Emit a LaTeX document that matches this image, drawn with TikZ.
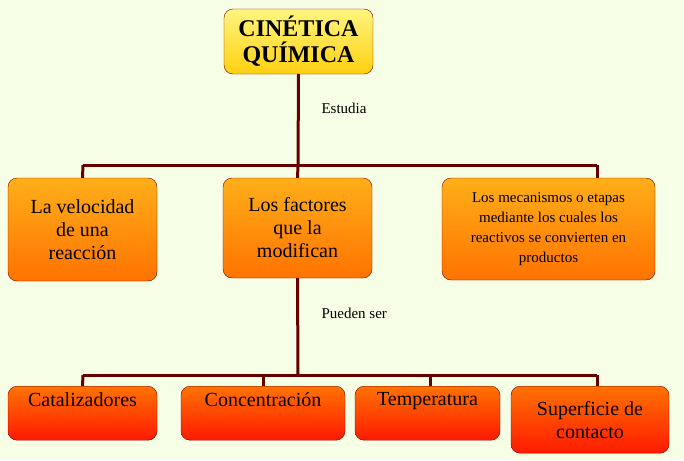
\documentclass[tikz,border=0pt]{standalone}
\usepackage{fontspec}
\setmainfont{Liberation Serif}
\begin{document}
\begin{tikzpicture}[x=1pt,y=-1pt,
  box/.style={draw=red!50!black,rounded corners=9pt,align=center,inner sep=1pt},
  mid/.style={box,top color=orange!70!yellow!90!white,bottom color=orange!90!red,font=\fontsize{20}{23}\selectfont},
  low/.style={box,top color=orange!90!red,bottom color=red!80!orange,font=\fontsize{20}{23}\selectfont},
  ln/.style={draw=red!40!black,line width=3pt},
  lab/.style={font=\fontsize{15}{17}\selectfont}]
\fill[fill={rgb,255:red,246;green,255;blue,230}] (0,0) rectangle (684,460);
\useasboundingbox (0,0) rectangle (684,460);
% connectors first
\coordinate (h1) at (298,165);
\coordinate (hl) at (83,165);
\coordinate (hr) at (597,165);
\coordinate (g1) at (298,375);
\coordinate (gl) at (83,375);
\coordinate (gr) at (597,375);
\coordinate (g2) at (263,375);
\coordinate (g3) at (430,375);
\node[box,top color={rgb,255:red,255;green,245;blue,128},bottom color={rgb,255:red,255;green,208;blue,16},minimum width=149pt,minimum height=65pt,font=\bfseries\fontsize{24}{26}\selectfont] (top) at (298.5,41.5) {CINÉTICA\\QUÍMICA};
\node[mid,minimum width=149pt,minimum height=103pt] (a) at (82.5,229.5) {La velocidad\\de una\\reacción};
\node[mid,minimum width=149pt,minimum height=100pt] (b) at (297.5,228) {Los factores\\que la\\modifican};
\node[mid,minimum width=213pt,minimum height=102pt,font=\fontsize{15}{20}\selectfont] (c) at (548.5,229) {Los mecanismos o etapas\\mediante los cuales los\\reactivos se convierten en\\productos};
\node[low,minimum width=149pt,minimum height=54pt,anchor=north] (d) at (82.5,386) {Catalizadores\\[-2pt]\strut};
\node[low,minimum width=164pt,minimum height=54pt,anchor=north] (e) at (263,386) {Concentración\\[-2pt]\strut};
\node[low,minimum width=145pt,minimum height=54pt,anchor=north] (f) at (427.5,386) {Temperatura\\[-2pt]\strut};
\node[low,minimum width=158pt,minimum height=67pt,anchor=north] (g) at (590,386) {Superficie de\\contacto};
\begin{scope}[on background layer/.style={}]
\end{scope}
\draw[ln] (top.south) -- (h1);
\draw[ln] (hl) -- (hr);
\draw[ln] (hl) -- (a.north);
\draw[ln] (h1) -- (b.north);
\draw[ln] (hr) -- (hr|-c.north);
\draw[ln] (b.south) -- (g1);
\draw[ln] (gl) -- (gr);
\draw[ln] (gl) -- (d.north);
\draw[ln] (g2) -- (e.north);
\draw[ln] (g3) -- (g3|-f.north);
\draw[ln] (gr) -- (gr|-g.north);
\node[lab,anchor=west] (l1) at (318,108) {Estudia};
\node[lab,anchor=west] (l2) at (318,313) {Pueden ser};
\end{tikzpicture}
\end{document}
